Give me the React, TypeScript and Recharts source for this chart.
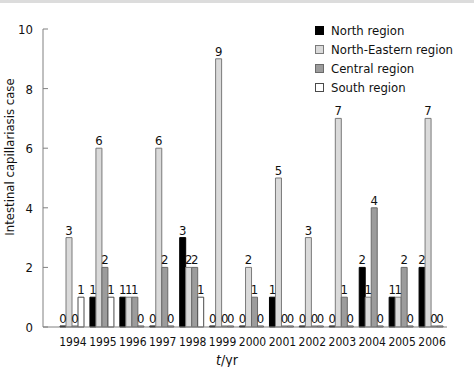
import { BarChart, Bar, XAxis, YAxis, LabelList } from "recharts";

const years = ["1994", "1995", "1996", "1997", "1998", "1999", "2000", "2001", "2002", "2003", "2004", "2005", "2006"];
const north = [0, 1, 1, 0, 3, 0, 0, 1, 0, 0, 2, 1, 2];
const northEastern = [3, 6, 1, 6, 2, 9, 2, 5, 3, 7, 1, 1, 7];
const central = [0, 2, 1, 2, 2, 0, 1, 0, 0, 1, 4, 2, 0];
const south = [1, 1, 0, 0, 1, 0, 0, 0, 0, 0, 0, 0, 0];
const yTicks = [0, 2, 4, 6, 8, 10];

const FONT = '"DejaVu Sans Condensed", "DejaVu Sans", sans-serif';
const AXIS_X = 43;

const series = [
  { key: "north", name: "North region", fill: "#000000", stroke: "#000000" },
  { key: "northEastern", name: "North-Eastern region", fill: "#dadada", stroke: "#7a7a7a" },
  { key: "central", name: "Central region", fill: "#9c9c9c", stroke: "#6a6a6a" },
  { key: "south", name: "South region", fill: "#ffffff", stroke: "#4a4a4a" },
];

const data = years.map((y, i) => ({
  year: y,
  north: north[i],
  northEastern: northEastern[i],
  central: central[i],
  south: south[i],
}));

// y ticks: label on the left, short tick pointing into the plot
const YTick = (props: any) => {
  const { y, payload } = props;
  return (
    <g>
      <line x1={AXIS_X} x2={AXIS_X + 5} y1={y} y2={y} stroke="#808080" />
      <text x={AXIS_X - 10} y={y} dy={5} textAnchor="end" fontSize={13} fontFamily={FONT} fill="#111">
        {payload.value}
      </text>
    </g>
  );
};

const ValueLabel = (p: any) => (
  <text
    x={p.x + p.width / 2}
    y={p.y - 3}
    textAnchor="middle"
    fontSize={13}
    fontFamily={FONT}
    fill="#111"
  >
    {p.value}
  </text>
);

export default function App() {
  return (
    <div style={{ position: "absolute", left: 0, top: 0, width: 474, height: 367, background: "#fff" }}>
      <div style={{ position: "absolute", left: 0, top: 0, width: 474, height: 3, background: "#dcdcdc" }} />
      <BarChart
        width={474}
        height={367}
        data={data}
        margin={{ top: 29, right: 27, bottom: 10, left: 0 }}
        barCategoryGap={2}
        barGap={0}
      >
        <XAxis
          dataKey="year"
          height={30}
          padding={{ left: 15, right: 0 }}
          stroke="#808080"
          tickLine={false}
          tickMargin={4}
          tick={{ fontSize: 12, fontFamily: FONT, fill: "#111" }}
          interval={0}
          label={{
            position: "insideBottom",
            content: (p: any) => {
              const vb = p.viewBox;
              return (
                <text x={vb.x + vb.width / 2 - 18} y={365} textAnchor="middle" fontSize={14} fontFamily={FONT} fill="#111">
                  <tspan fontStyle="italic">t</tspan>/yr
                </text>
              );
            },
          }}
        />
        <YAxis
          width={AXIS_X}
          domain={[0, 10]}
          ticks={yTicks}
          stroke="#808080"
          tickLine={false}
          tick={<YTick />}
          label={{
            position: "insideLeft",
            content: () => (
              <text
                x={14}
                y={157}
                transform="rotate(-90 14 157)"
                textAnchor="middle"
                fontSize={13}
                fontFamily={FONT}
                fill="#111"
              >
                Intestinal capillariasis case
              </text>
            ),
          }}
        />
        {series.map((s) => (
          <Bar
            key={s.key}
            dataKey={s.key}
            name={s.name}
            fill={s.fill}
            stroke={s.stroke}
            strokeWidth={1}
            minPointSize={1}
            isAnimationActive={false}
          >
            <LabelList dataKey={s.key} content={<ValueLabel />} />
          </Bar>
        ))}
      </BarChart>
      <div style={{ position: "absolute", left: 315, top: 21, fontFamily: FONT, fontSize: 13, color: "#111" }}>
        {series.map((s) => (
          <div key={s.key} style={{ display: "flex", alignItems: "center", height: 19 }}>
            <span
              style={{
                width: 7,
                height: 7,
                background: s.fill,
                border: `1px solid ${s.stroke}`,
                marginRight: 7,
              }}
            />
            <span>{s.name}</span>
          </div>
        ))}
      </div>
    </div>
  );
}
